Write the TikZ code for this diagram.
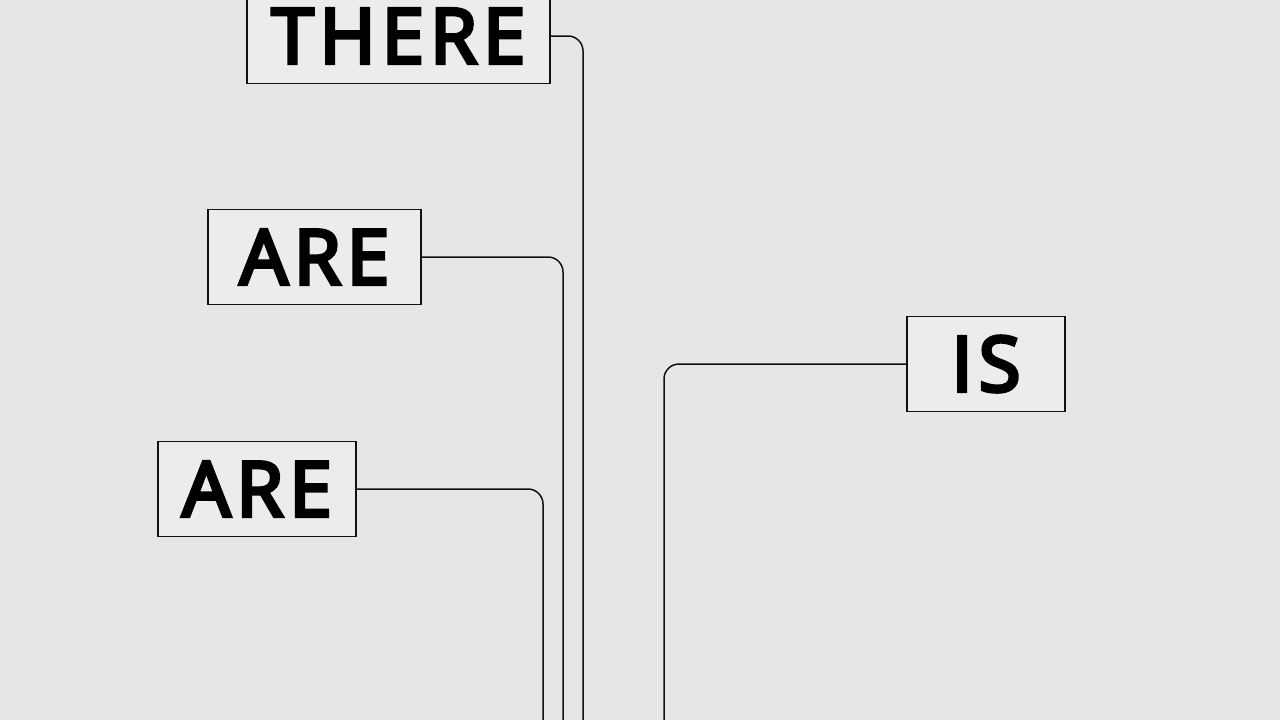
\documentclass[tikz,border=0pt]{standalone}
\usepackage{fontspec}
\setmainfont{Open Sans}
\definecolor{bg}{HTML}{E5E6E5}
\definecolor{boxfill}{HTML}{EBECEB}
\definecolor{ink}{HTML}{111111}
\begin{document}
\begin{tikzpicture}[x=1pt, y=-1pt,
    word/.style={draw=ink, line width=1.5pt, fill=boxfill, inner sep=0pt,
      minimum height=95pt, font=\fontsize{76}{80}\selectfont\addfontfeature{FakeBold=5,LetterSpace=8}},
    link/.style={draw=ink, line width=1.5pt, rounded corners=15pt}]
    \fill[bg] (0,0) rectangle (1280,720);
    \useasboundingbox (0,0) rectangle (1280,720);

    \node[word, minimum width=303pt] (there) at (398.5, 36) {THERE};
    \node[word, minimum width=213pt] (are1) at (314.5, 257) {ARE};
    \node[word, minimum width=198pt] (are2) at (257, 489) {ARE};
    \node[word, minimum width=158pt] (is) at (986, 364) {IS};

    \coordinate (there0) at (583, 730);
    \coordinate (are10) at (563, 730);
    \coordinate (are20) at (543, 730);
    \coordinate (is0) at (664, 730);

    \draw[link] (there.east) -| (there0);
    \draw[link] (are1.east) -| (are10);
    \draw[link] (are2.east) -| (are20);
    \draw[link] (is.west) -| (is0);
\end{tikzpicture}
\end{document}
